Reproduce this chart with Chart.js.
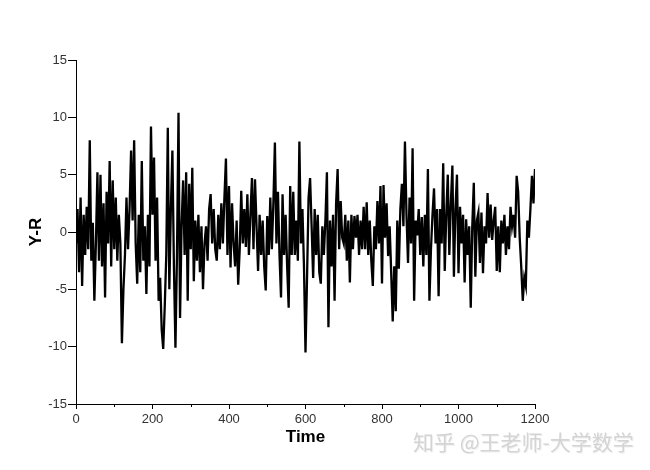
<!DOCTYPE html>
<html>
<head>
<meta charset="utf-8">
<script src="https://cdn.jsdelivr.net/npm/chart.js@4"></script>
<style>
html,body{margin:0;padding:0;background:#fff;}
#wrap{position:relative;width:650px;height:470px;}
#wm{position:absolute;left:413px;top:426px;font-family:"Noto Sans CJK SC",sans-serif;font-size:21px;color:#d4d4d4;white-space:nowrap;text-shadow:1px 1px 0 #f0f0f0;}
</style>
</head>
<body>
<div id="wrap">
<canvas id="c" width="650" height="470"></canvas>
<div id="wm">知乎 @王老师-大学数学</div>
</div>
<script>
// Time step between samples (time units)
const timeStep = 4;
// Series values Y-R, one per 4 time units (t = 0 .. 1200)
const yrValues = [
  -1.0, 2.0, -3.5, 3.0, -4.7, 1.5, -2.0, 2.2, -1.5, 8.0, -2.5, 0.8, -6.0, -1.0, 5.2, -2.5, 5.0, -3.0, 2.5, -5.7, 3.5, -1.0, 6.2, -3.0, 4.5,
  -1.5, 3.0, -2.5, 1.5, -1.0, -9.7, -5.0, -2.0, 3.0, -1.5, 2.0, 7.1, 1.0, 8.0, -1.0, -4.5, 1.5, -3.5, 6.2, -2.5, 0.5, -5.4, 1.5, -3.0, 9.2,
  1.5, 6.5, -2.5, 3.0, -6.0, -4.0, -8.5, -10.2, -6.5, -2.0, 9.1, -5.0, 2.0, 7.1, -3.0, -10.1, -2.0, 10.4, -7.5, 0.5, 4.5, -2.0, 5.2, -6.0, 4.2,
  -1.5, 5.6, -4.3, 1.0, -2.5, 1.5, -3.5, 0.5, -5.0, -1.0, 0.5, -2.5, 2.0, 3.3, -1.0, 2.0, -1.5, -2.5, 1.5, -1.5, 2.5, -1.0, 3.0, 6.4, -2.0,
  4.0, -3.1, 2.5, -1.0, -3.0, 1.0, -4.6, -1.5, 3.6, -1.0, 2.0, -1.3, 3.3, -2.0, 1.5, 4.7, -1.5, 4.6, 0.5, -3.4, 1.5, -2.0, 1.0, -3.0, -5.1,
  1.4, -2.0, 3.0, -1.5, 2.5, 7.8, -1.0, 3.5, -2.0, -5.7, 3.3, -2.0, 1.5, -3.0, -6.6, 4.0, -2.0, 3.5, -2.0, 1.0, -2.5, 7.9, -1.0, 2.0, -3.0,
  -10.5, -4.0, 3.0, 4.7, 0.5, -4.0, 2.0, -2.0, 1.5, -3.5, -4.5, 0.5, -2.0, 1.0, 5.2, -8.3, 1.0, -3.0, 1.5, -6.0, 2.5, 5.5, -1.5, 2.7, -0.5,
  -1.0, 1.5, -2.5, 1.0, -4.4, 1.5, -1.5, 1.4, -0.5, 1.5, -2.0, 1.0, -1.5, 2.2, -1.5, 2.6, -2.0, 1.0, -2.5, -4.7, 0.5, -1.5, 2.7, -1.0, 4.0,
  -4.5, 4.1, -0.5, 2.5, -2.1, 0.5, -3.5, -7.8, -3.0, -6.9, 1.0, -3.2, 2.0, 4.2, 0.5, 7.9, 1.5, -2.7, 3.0, -1.0, 7.3, -6.0, 1.0, -0.3, 2.0,
  -2.0, 1.3, -3.0, 1.5, -2.0, 5.5, -6.0, -1.5, 1.5, 3.8, -1.0, 2.0, -5.6, 2.0, -1.0, 6.0, -3.4, 1.5, 5.0, -2.0, 2.5, 5.8, -3.9, 2.0, 5.0,
  -3.6, 2.2, -1.0, 1.5, -4.4, 1.1, -2.0, 0.5, -6.6, 0.5, 4.3, -3.9, 1.0, 1.7, -2.7, 1.7, -3.6, 0.5, -1.0, 3.4, -0.5, 2.4, -0.7, 1.0, 2.2,
  -3.4, 0.5, -3.5, 1.0, -1.0, 1.5, -2.0, 0.5, -1.5, 2.2, 0.5, 1.5, -0.5, 4.9, 3.5, -0.5, -3.0, -6.0, -4.0, -4.7, 1.0, -0.5, 2.0, 4.9, 2.5,
  5.5
];
// Axis tick values
const xMajorTicks = [0, 200, 400, 600, 800, 1000, 1200];
const xMinorTicks = [100, 300, 500, 700, 900, 1100];
const yTicks = [-15, -10, -5, 0, 5, 10, 15];

const points = yrValues.map((v, i) => ({x: i * timeStep, y: v}));

const minorTickPlugin = {
  id: 'minorTicks',
  afterDraw(chart) {
    const xs = chart.scales.x;
    const ctx = chart.ctx;
    ctx.save();
    ctx.strokeStyle = '#000';
    ctx.lineWidth = 1;
    xMinorTicks.forEach(t => {
      const px = Math.round(xs.getPixelForValue(t)) + 0.5;
      ctx.beginPath();
      ctx.moveTo(px, xs.top);
      ctx.lineTo(px, xs.top + 3);
      ctx.stroke();
    });
    ctx.restore();
  }
};

const tickFont = {family: 'Liberation Sans, Arial, sans-serif', size: 13};
const titleFont = {family: 'Liberation Sans, Arial, sans-serif', size: 17, weight: 'bold'};

new Chart(document.getElementById('c'), {
  type: 'line',
  data: {
    datasets: [{
      data: points,
      borderColor: '#000',
      borderWidth: 2.3,
      pointRadius: 0,
      tension: 0,
      fill: false
    }]
  },
  options: {
    responsive: false,
    animation: false,
    layout: {padding: {left: 26, right: 115, top: 60, bottom: 22}},
    plugins: {legend: {display: false}, tooltip: {enabled: false}},
    scales: {
      x: {
        type: 'linear',
        min: 0, max: 1200,
        afterBuildTicks: s => { s.ticks = xMajorTicks.map(v => ({value: v})); },
        afterFit: s => { s.height = 44; },
        ticks: {color: '#333', font: tickFont, padding: 3, maxRotation: 0, callback: v => String(v)},
        grid: {drawOnChartArea: false, drawTicks: true, tickLength: 5, color: '#000'},
        border: {display: true, color: '#000', width: 1},
        title: {display: true, text: 'Time', color: '#000', font: titleFont, padding: {top: 0, bottom: 0}}
      },
      y: {
        type: 'linear',
        min: -15, max: 15,
        afterBuildTicks: s => { s.ticks = yTicks.map(v => ({value: v})); },
        afterFit: s => { s.width = 50; },
        ticks: {color: '#333', font: tickFont, padding: 1, callback: v => String(v)},
        grid: {drawOnChartArea: false, drawTicks: true, tickLength: 8, color: '#000'},
        border: {display: true, color: '#000', width: 1},
        title: {display: true, text: 'Y-R', color: '#000', font: titleFont, padding: {top: 0, bottom: 0}}
      }
    }
  },
  plugins: [minorTickPlugin]
});
</script>
</body>
</html>
